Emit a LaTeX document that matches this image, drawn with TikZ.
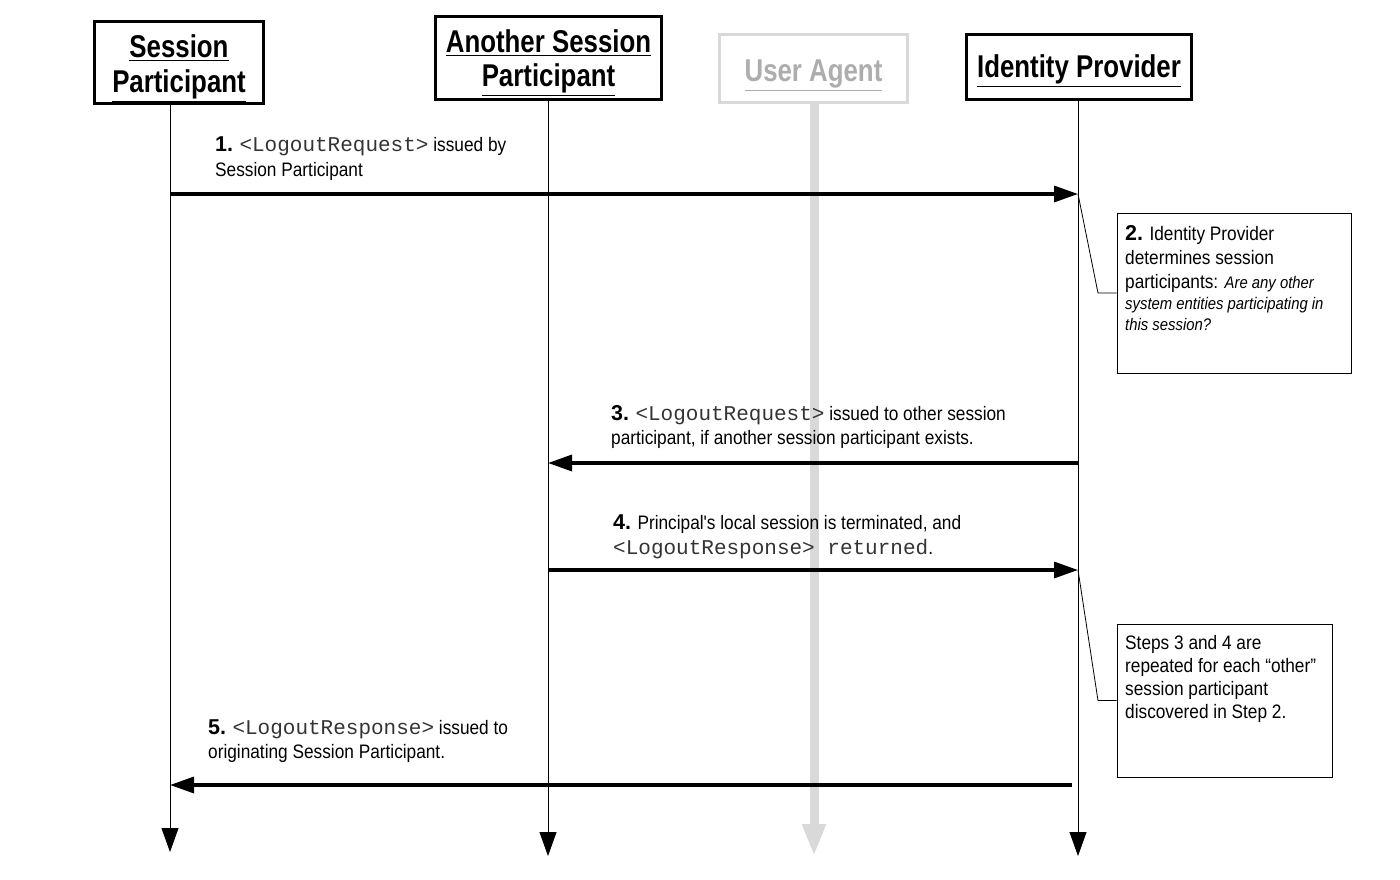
\documentclass[tikz,border=0pt]{standalone}
\usepackage{fontspec}
\setmainfont{Liberation Sans}
\setmonofont{Liberation Mono}
\newfontfamily\hdrfont[FakeStretch=0.82]{Liberation Sans}
\newfontfamily\labfont[FakeStretch=0.885]{Liberation Sans}
\newfontfamily\numfont{Liberation Sans}
\usetikzlibrary{arrows.meta}
\definecolor{uagray}{HTML}{D9D9D9}
\definecolor{uatext}{HTML}{ADADAD}
\definecolor{monoink}{HTML}{333333}
\newcommand\num[1]{{\numfont\bfseries\fontsize{21.5}{24}\selectfont #1}}
\newcommand\mono[1]{{\ttfamily\color{monoink}\fontsize{21}{24}\selectfont #1}}
\begin{document}
\begin{tikzpicture}[x=1pt,y=-1pt,
  hdrbox/.style={draw, line width=3.2pt, inner sep=0pt},
  hdrtxt/.style={anchor=base, inner sep=0pt,
    font=\hdrfont\bfseries\fontsize{31.5}{35}\selectfont},
  notebox/.style={draw, line width=0.8pt, inner sep=0pt},
  life/.style={line width=0.9pt, -{Triangle[length=24pt,width=17pt]}},
  msg/.style={line width=3.4pt, -{Triangle[length=24pt,width=16pt]}},
  lab/.style={anchor=base west, inner sep=0pt, font=\labfont\fontsize{19.5}{24}\selectfont},
  itl/.style={anchor=base west, inner sep=0pt, font=\labfont\itshape\fontsize{16.8}{20}\selectfont},
  conn/.style={line width=0.8pt}
]
\useasboundingbox (0,0) rectangle (1400,880);

% header boxes
\node[hdrbox, minimum width=169pt, minimum height=82pt] (sp) at (179,62.5) {};
\node[hdrbox, minimum width=226pt, minimum height=83pt] (asp) at (548.5,58) {};
\node[hdrbox, draw=uagray, line width=3pt, minimum width=188pt, minimum height=68pt] (ua) at (813.5,68.5) {};
\node[hdrbox, minimum width=225pt, minimum height=65pt] (idp) at (1079,67) {};

\node[hdrtxt] (spt1) at (179,58) {\underline{Session}};
\node[hdrtxt] (spt2) at (179,93) {\underline{Participant}};
\node[hdrtxt] (aspt1) at (548.5,53) {\underline{Another Session}};
\node[hdrtxt] (aspt2) at (548.5,87) {\underline{Participant}};
\node[hdrtxt, text=uatext] (uat) at (813.5,82) {\underline{User Agent}};
\node[hdrtxt] (idpt) at (1079,78) {\underline{Identity Provider}};

% lifeline coordinates
\coordinate (spT) at (170,105);  \coordinate (spB) at (170,852);
\coordinate (asT) at (548,101);  \coordinate (asB) at (548,856);
\coordinate (uaT) at (814,104);  \coordinate (uaB) at (814,856);
\coordinate (idT) at (1078,101); \coordinate (idB) at (1078,856);

\draw[uagray, line width=9pt, -{Triangle[length=32pt,width=22pt]}] (uaT) -- (uaB);
\draw[life] (spT) -- (spB);
\draw[life] (asT) -- (asB);
\draw[life] (idT) -- (idB);

% message coordinates
\coordinate (m1a) at (170,194);  \coordinate (m1b) at (1078,194);
\coordinate (m3a) at (1078,463); \coordinate (m3b) at (548,463);
\coordinate (m4a) at (548,570);  \coordinate (m4b) at (1078,570);
\coordinate (m5a) at (1072,785); \coordinate (m5b) at (170,785);

% note boxes
\node[notebox, minimum width=234pt, minimum height=160pt] (note2) at (1234,293) {};
\node[notebox, minimum width=215pt, minimum height=153pt] (note3) at (1224.5,700.5) {};
\coordinate (k2) at (1098,293);
\coordinate (k3) at (1098,700.5);
\draw[conn] (m1b) -- (k2) -- (note2.west);
\draw[conn] (m4b) -- (k3) -- (note3.west);

% messages
\draw[msg] (m1a) -- (m1b);
\draw[msg] (m3a) -- (m3b);
\draw[msg] (m4a) -- (m4b);
\draw[msg] (m5a) -- (m5b);

% labels
\node[lab] (l1a) at (215,152) {\num{1.} \mono{<LogoutRequest>} issued by};
\node[lab] (l1b) at (215,176) {Session Participant};

\node[lab] (n2a) at (1125,240) {\num{2.} Identity Provider};
\node[lab] (n2b) at (1125,264) {determines session};
\node[lab] (n2c) at (1125,288) {participants: {\itshape\fontsize{16.8}{20}\selectfont Are any other}};
\node[itl] (n2d) at (1125,309) {system entities participating in};
\node[itl] (n2e) at (1125,330) {this session?};

\node[lab] (l3a) at (611,420) {\num{3.} \mono{<LogoutRequest>} issued to other session};
\node[lab] (l3b) at (611,444) {participant, if another session participant exists.};

\node[lab] (l4a) at (613,529) {\num{4.} Principal's local session is terminated, and};
\node[lab] (l4b) at (613,554) {\mono{<LogoutResponse> returned}.};

\node[lab] (n3a) at (1125,649) {Steps 3 and 4 are};
\node[lab] (n3b) at (1125,672) {repeated for each “other”};
\node[lab] (n3c) at (1125,695) {session participant};
\node[lab] (n3d) at (1125,718) {discovered in Step 2.};

\node[lab] (l5a) at (208,734) {\num{5.} \mono{<LogoutResponse>} issued to};
\node[lab] (l5b) at (208,758) {originating Session Participant.};
\end{tikzpicture}
\end{document}
